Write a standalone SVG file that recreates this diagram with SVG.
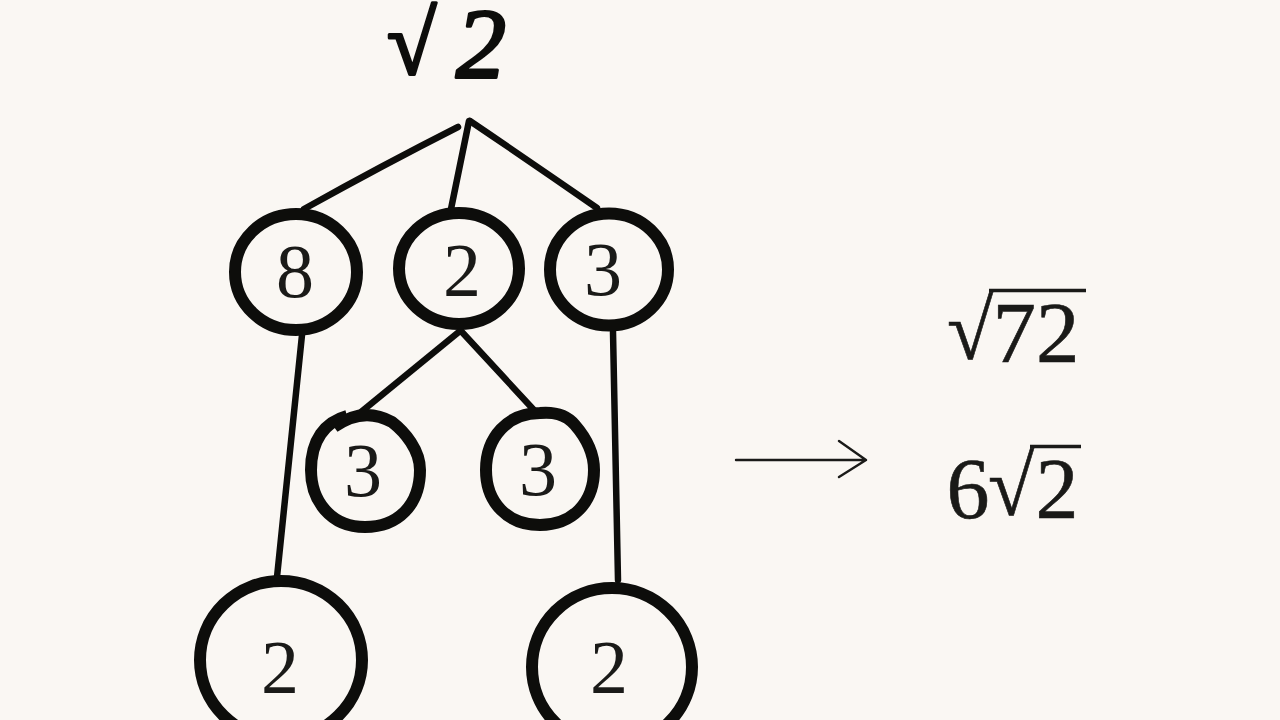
<svg xmlns="http://www.w3.org/2000/svg" width="1280" height="720" viewBox="0 0 1280 720">
<style>
.ring{fill:none;stroke:#0d0d0b;stroke-width:12;stroke-linejoin:round}
.edge{fill:none;stroke:#0d0d0b;stroke-width:6.500;stroke-linecap:round}
.num{font-family:"Liberation Serif",serif;fill:#1a1a18;text-anchor:middle}
.math{stroke:#1a1a18;stroke-width:.6}
.hand{font-family:"Liberation Serif",serif;fill:#0d0d0b;stroke:#0d0d0b;stroke-width:3;stroke-linejoin:round}
.thin{fill:none;stroke:#1a1a18;stroke-width:2.400;stroke-linecap:round;stroke-linejoin:round}
.bar{fill:none;stroke:#1a1a18;stroke-width:3.500}
</style>
<rect width="1280" height="720" fill="#faf7f3"/>
<g id="connectors">
<path class="edge" d="M304 209Q383 165 458 127"/>
<path class="edge" d="M469 121L451 209"/>
<path class="edge" d="M470 121Q535 165 597 208"/>
<path class="edge" d="M302 335L277 577"/>
<path class="edge" d="M613 332L618 580"/>
<path class="edge" d="M460 331L361 412"/>
<path class="edge" d="M461 331L533 409"/>
</g>
<g id="root"><text class="hand" x="387" y="74" font-size="90">√</text><text class="hand" x="456" y="77" font-size="100" font-style="italic">2</text></g>
<g id="n8"><ellipse class="ring" cx="296" cy="272" rx="61" ry="58"/><text class="num" x="295" y="297" font-size="76">8</text></g>
<g id="n2"><ellipse class="ring" cx="459" cy="268.500" rx="60" ry="55.500"/><text class="num" x="462" y="296" font-size="76">2</text></g>
<g id="n3"><ellipse class="ring" cx="609" cy="269.500" rx="59" ry="56"/><text class="num" x="603" y="295" font-size="76">3</text></g>
<g id="n3a"><path class="ring" d="M334 427C352 414 372 411 392 422C405 432 420 450 420 470C420 505 398 527 365 527C330 527 311 500 311 470C311 440 325 422 347 416"/><text class="num" x="363" y="496" font-size="76">3</text></g>
<g id="n3b"><path class="ring" d="M486 470C486 437 508 413 540 413C552 412 565 413 575 425C588 440 594 455 594 470C594 503 572 525 540 525C508 525 486 503 486 470Z"/><text class="num" x="538" y="495" font-size="76">3</text></g>
<g id="n2a"><ellipse class="ring" cx="281" cy="660" rx="81" ry="79"/><text class="num" x="280" y="693" font-size="76">2</text></g>
<g id="n2b"><ellipse class="ring" cx="612" cy="667" rx="80" ry="79"/><text class="num" x="609" y="693" font-size="76">2</text></g>
<g id="arrow"><path class="thin" d="M736 460H865M839 441L866 460L839 477"/></g>
<g id="r72"><text class="num math" x="970" y="359" font-size="84">√</text><path class="bar" d="M989 290.500H1086"/><text class="num math" x="1036" y="362" font-size="87">72</text></g>
<g id="r6s2"><text class="num math" x="968" y="518" font-size="86">6</text><text class="num math" x="1011" y="515" font-size="84">√</text><path class="bar" d="M1030 446.500H1081"/><text class="num math" x="1057" y="518" font-size="86">2</text></g>
</svg>
